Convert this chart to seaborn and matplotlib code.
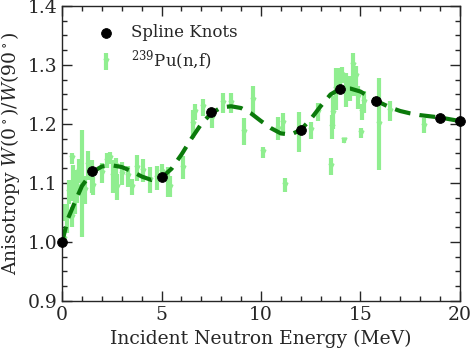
import matplotlib
matplotlib.use("Agg")
import matplotlib.pyplot as plt
import pandas as pd
import numpy as np
import seaborn as sns
from matplotlib.ticker import MultipleLocator

# spline knots
knot_e = [0.0, 1.5, 5.0, 7.5, 12.0, 14.0, 15.8, 19.0, 20.0]
knot_a = [1.000, 1.120, 1.110, 1.220, 1.190, 1.259, 1.239, 1.210, 1.205]

# dashed fit curve
curve_e = [0.0, 0.3, 0.7, 1.0, 1.5, 2.0, 2.5, 3.0, 3.5, 4.0, 4.5, 5.0, 5.5, 6.0,
           6.5, 7.0, 7.5, 8.0, 8.5, 9.0, 9.5, 10.0, 10.5, 11.0, 11.5, 12.0,
           12.5, 13.0, 13.5, 14.0, 14.5, 15.0, 15.5, 16.0, 16.5, 17.0, 17.5,
           18.0, 18.5, 19.0, 19.5, 20.0]
curve_a = [1.000, 1.040, 1.072, 1.095, 1.118, 1.128, 1.130, 1.127, 1.120, 1.111,
           1.105, 1.109, 1.124, 1.148, 1.175, 1.200, 1.218, 1.228, 1.230, 1.227,
           1.218, 1.205, 1.193, 1.184, 1.182, 1.190, 1.208, 1.230, 1.250, 1.260,
           1.260, 1.255, 1.245, 1.236, 1.228, 1.222, 1.218, 1.215, 1.213, 1.211,
           1.208, 1.205]

# 239Pu(n,f) measurements
data_e = [0.10, 0.15, 0.25, 0.35, 0.49, 0.50, 0.57, 0.65, 0.74, 0.85, 0.99, 1.16,
          1.32, 1.49, 1.57, 2.00, 2.24, 2.40, 2.57, 2.70, 2.75, 3.00, 3.30, 3.50,
          3.75, 4.09, 4.42, 4.76, 5.00, 5.33, 5.43, 6.06, 6.60, 6.70, 7.07, 7.52,
          8.10, 8.48, 9.13, 9.60, 10.08, 10.85, 11.10, 11.20, 11.90, 12.50, 12.85,
          13.50, 13.57, 13.63, 13.80, 13.97, 14.10, 14.20, 14.30, 14.47, 14.64,
          14.70, 14.80, 14.90, 15.05, 15.10, 15.20, 15.93, 16.50, 18.20]
data_a = [1.005, 1.050, 1.040, 1.085, 1.042, 1.142, 1.100, 1.070, 1.094, 1.120,
          1.099, 1.088, 1.130, 1.111, 1.095, 1.117, 1.138, 1.142, 1.111, 1.128,
          1.093, 1.116, 1.111, 1.093, 1.125, 1.121, 1.105, 1.108, 1.119, 1.102,
          1.094, 1.126, 1.200, 1.220, 1.228, 1.210, 1.235, 1.236, 1.187, 1.240,
          1.152, 1.192, 1.202, 1.096, 1.187, 1.189, 1.220, 1.128, 1.195, 1.219,
          1.259, 1.276, 1.283, 1.172, 1.257, 1.260, 1.300, 1.267, 1.282, 1.245,
          1.185, 1.220, 1.237, 1.200, 1.222, 1.197]
data_err = [0.010, 0.015, 0.025, 0.020, 0.017, 0.009, 0.030, 0.022, 0.028, 0.020,
            0.090, 0.023, 0.025, 0.028, 0.015, 0.017, 0.012, 0.010, 0.028, 0.014,
            0.022, 0.020, 0.017, 0.014, 0.022, 0.020, 0.022, 0.020, 0.014, 0.025,
            0.017, 0.020, 0.023, 0.014, 0.015, 0.017, 0.017, 0.017, 0.023, 0.024,
            0.009, 0.019, 0.017, 0.012, 0.034, 0.014, 0.015, 0.014, 0.020, 0.028,
            0.036, 0.019, 0.014, 0.004, 0.029, 0.021, 0.020, 0.019, 0.017, 0.020,
            0.008, 0.014, 0.019, 0.078, 0.017, 0.013]

sns.set_style("ticks")
plt.rcParams["font.family"] = ["DejaVu Serif"]
plt.rcParams["mathtext.fontset"] = "dejavuserif"

fig = plt.figure(figsize=(4.74, 3.51), dpi=100)
ax = fig.add_axes([0.131, 0.1425, 0.839, 0.8405])

ax.errorbar(data_e, data_a, yerr=data_err, fmt="v", color="#90ee90", ms=3.5,
            elinewidth=3, capsize=0, zorder=1, label=r"$^{239}$Pu(n,f)")

curve = pd.DataFrame({"E": curve_e, "A": curve_a})
sns.lineplot(data=curve, x="E", y="A", ax=ax, color="#0b7a0b", lw=3,
             dashes=False, zorder=2)
ax.lines[-1].set_dashes([3.8, 2.2])

knots = pd.DataFrame({"E": knot_e, "A": knot_a})
sns.scatterplot(data=knots, x="E", y="A", ax=ax, color="black", s=50,
                edgecolor="black", zorder=3, label="Spline Knots", clip_on=False)

ax.set_xlim(0, 20)
ax.set_ylim(0.9, 1.4)
ax.xaxis.set_major_locator(MultipleLocator(5))
ax.xaxis.set_minor_locator(MultipleLocator(1))
ax.yaxis.set_major_locator(MultipleLocator(0.1))
ax.yaxis.set_minor_locator(MultipleLocator(0.025))
ax.tick_params(which="both", direction="in", top=True, right=True, labelsize=13.5)
ax.tick_params(which="major", length=7, width=1)
ax.tick_params(which="minor", length=3.5, width=1)
for s in ax.spines.values():
    s.set_linewidth(1)

ax.set_xlabel("Incident Neutron Energy (MeV)", fontsize=13.5)
ax.set_ylabel(r"Anisotropy $W(0^\circ)/W(90^\circ)$", fontsize=13.5)

h, l = ax.get_legend_handles_labels()
order = [l.index("Spline Knots"), l.index(r"$^{239}$Pu(n,f)")]
ax.legend([h[i] for i in order], [l[i] for i in order], loc="upper left",
          frameon=False, fontsize=12, handletextpad=0.5,
          bbox_to_anchor=(0.03, 0.99))

fig.savefig("out.png", dpi=100)
